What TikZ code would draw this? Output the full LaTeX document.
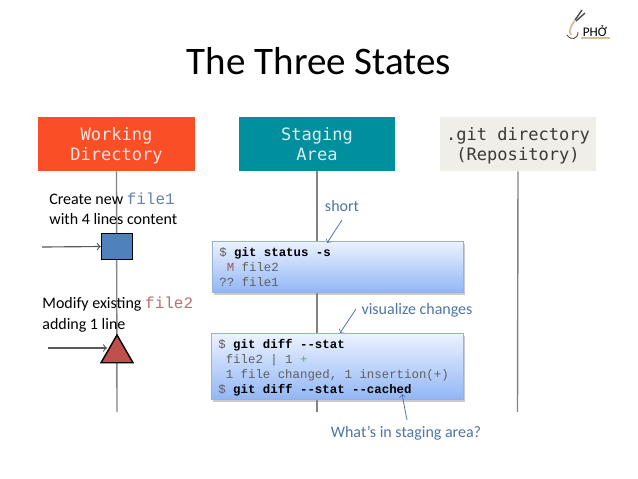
\documentclass[tikz,border=0pt]{standalone}
\usepackage{fontspec}
\setmainfont{Carlito}
\setmonofont{Liberation Mono}
\newfontfamily\headfont{DejaVu Sans Mono}
\usetikzlibrary{shadows,shapes.geometric}
\definecolor{wdred}{RGB}{250,78,39}
\definecolor{stteal}{RGB}{0,143,157}
\definecolor{gitgrey}{RGB}{240,238,232}
\definecolor{gitink}{RGB}{60,58,52}
\definecolor{noteblue}{RGB}{79,117,166}
\definecolor{fileblue}{RGB}{100,130,175}
\definecolor{filered}{RGB}{190,110,110}
\definecolor{lifegrey}{RGB}{135,130,125}
\definecolor{boxedge}{RGB}{150,178,218}
\definecolor{codegrey}{RGB}{95,95,95}
\definecolor{squareblue}{RGB}{79,129,189}
\definecolor{trianglered}{RGB}{192,80,77}
\definecolor{boxtop}{RGB}{236,242,255}
\definecolor{boxbottom}{RGB}{145,182,245}
\definecolor{logotan}{RGB}{214,190,150}
\tikzset{
  headbox/.style={minimum width=3.14cm,minimum height=1.08cm,inner sep=0pt},
  headlabel/.style={yshift=-1.1pt,inner sep=0pt,align=center,font=\headfont\fontsize{9.7}{11.6}\selectfont},
  lifeline/.style={lifegrey,line width=0.8pt},
  notetext/.style={noteblue,font=\fontsize{9.1}{11}\selectfont,inner sep=0pt},
  notearrow/.style={->,noteblue,line width=0.45pt},
  sidetext/.style={align=left,anchor=north west,inner sep=0pt,font=\fontsize{9.1}{11.6}\selectfont},
  codebox/.style={draw=boxedge,line width=0.6pt,top color=boxtop,bottom color=boxbottom,
    drop shadow={shadow xshift=0.8pt,shadow yshift=-1.2pt,fill=black!45,opacity=0.45},
    anchor=north west,inner sep=0pt},
  codetext/.style={anchor=north west,align=left,inner sep=0pt,codegrey,font=\ttfamily\fontsize{7.05}{8.5}\selectfont},
}
\begin{document}
\begin{tikzpicture}[>=to,x=0.02cm,y=-0.02cm]
  \useasboundingbox[fill=white] (0,0) rectangle (638,478);
  % title
  \node[font=\fontsize{22.2}{26}\selectfont,inner sep=0pt] (title) at (319,61) {The Three States};
  % logo
  \draw[black!70,line width=0.8pt] (582,10) -- (575,20);
  \draw[black!70,line width=0.8pt] (585,13) -- (576,21);
  \draw[logotan,line width=1pt] (575,20) .. controls (571,26) and (568,31) .. (571,35);
  \draw[black!70,line width=0.5pt] (567,35) .. controls (571,41) and (578,39) .. (578,32);
  \node[font=\fontsize{7.5}{8}\selectfont,inner sep=0pt] (logo) at (595,31) {PHỞ};
  \coordinate (logotailstart) at (581,38);
  \coordinate (logotailend) at (610,38);
  \draw[logotan,line width=0.9pt] (logotailstart) -- (logotailend);
  % columns
  \node[headbox,fill=wdred,label={[headlabel,text=white!85!wdred]center:{Working\\Directory}}] (working) at (116.5,144) {};
  \node[headbox,fill=stteal,label={[headlabel,yshift=1.1pt,text=white!85!stteal]center:{Staging\\Area}}] (staging) at (317,144) {};
  \node[headbox,fill=gitgrey,label={[headlabel,text=gitink]center:{.git directory\\(Repository)}}] (repo) at (518,144) {};
  \coordinate (workingend) at (117,412);
  \coordinate (stagingend) at (317,412);
  \coordinate (repoend) at (517.5,412);
  \draw[lifeline] (working.south) -- (workingend);
  \draw[lifeline] (staging.south) -- (stagingend);
  \draw[lifeline] (repo.south) -- (repoend);
  % working directory
  \node[sidetext] (createtext) at (49,192.5) {Create new {\ttfamily\color{fileblue}file1}\\with 4 lines content};
  \node[draw=black,line width=0.8pt,fill=squareblue,minimum width=0.62cm,minimum height=0.52cm,inner sep=0pt] (square) at (117,246.5) {};
  \coordinate (squarein) at (42,247);
  \draw[->,line width=0.65pt,black!65] (squarein) -- (square.west);
  \node[sidetext] (modifytext) at (42,297) {Modify existing {\ttfamily\color{filered}file2}\\adding 1 line};
  \node[draw=black,line width=0.8pt,fill=trianglered,regular polygon,regular polygon sides=3,minimum size=0.74cm,inner sep=0pt] (triangle) at (117,353.5) {};
  \coordinate (trianglein) at (48,348);
  \coordinate (triangletip) at (107,348);
  \draw[->,line width=0.65pt,black!65] (trianglein) -- (triangletip);
  % staging area
  \node[codebox,minimum width=5.02cm,minimum height=1.02cm] (statusbox) at (212,241) {};
  \node[codetext] (statustext) at (219,247) {\${} \textcolor{black}{\textbf{git status -s}}\\
    \hspace*{0.6em}\textcolor{filered!80!black}{M} file2\\?? file1};
  \node[codebox,minimum width=5.04cm,minimum height=1.32cm] (diffbox) at (211,333) {};
  \node[codetext] (difftext) at (218,339) {\${} \textcolor{black}{\textbf{git diff --stat}}\\
    \hspace*{0.6em}file2 | 1 \textcolor{green!45!black!60}{+}\\
    \hspace*{0.6em}1 file changed, 1 insertion(+)\\
    \${} \textcolor{black}{\textbf{git diff --stat --cached}}};
  % notes
  \node[notetext] (short) at (342,206) {short};
  \coordinate (shortfrom) at (342,220);
  \coordinate (shortto) at (327,243);
  \draw[notearrow] (shortfrom) -- (shortto);
  \node[notetext] (visualize) at (417,310) {visualize changes};
  \coordinate (visualfrom) at (356,309);
  \coordinate (visualto) at (340,333);
  \draw[notearrow] (visualfrom) -- (visualto);
  \node[notetext] (cached) at (406,433) {What’s in staging area?};
  \coordinate (cachedfrom) at (407,420);
  \coordinate (cachedto) at (402,394);
  \draw[notearrow] (cachedfrom) -- (cachedto);
\end{tikzpicture}
\end{document}
